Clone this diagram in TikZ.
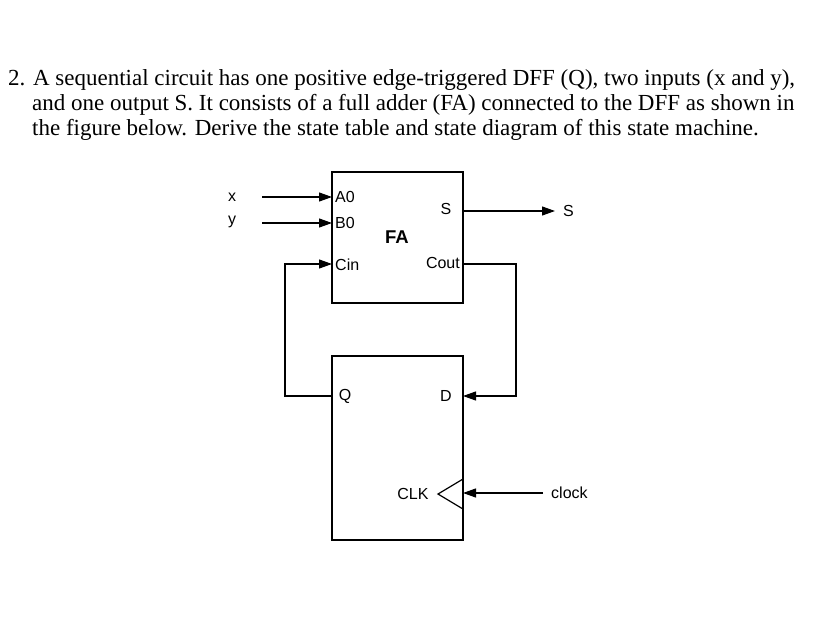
\documentclass[tikz,border=0pt]{standalone}
\usepackage{fontspec}
\setmainfont{Liberation Serif}
\newfontfamily\sansf{Liberation Sans}
\usetikzlibrary{arrows.meta}
\begin{document}
\begin{tikzpicture}[x=1pt,y=-1pt,
  line/.style={line width=1.2pt},
  arr/.style={line width=1.2pt,-{Triangle[length=13pt,width=9pt]}},
  lbl/.style={font=\sansf\fontsize{16}{18}\selectfont,inner sep=1pt},
  txt/.style={anchor=west,inner sep=0pt,font=\fontsize{23}{26}\selectfont}]
\useasboundingbox (0,0) rectangle (828,642);
\node[txt] (t1) at (8,80) {2. A sequential circuit has one positive edge-triggered DFF (Q), two inputs (x and y),};
\node[txt] (t2) at (32,105) {and one output S. It consists of a full adder (FA) connected to the DFF as shown in};
\node[txt] (t3) at (32,130) {the figure below. Derive the state table and state diagram of this state machine.};
% boxes
\draw[line] (332,172) rectangle (463,303);
\draw[line] (332,356) rectangle (463,540);
\node[lbl,anchor=west] (a0) at (334,197) {A0};
\node[lbl,anchor=west] (b0) at (334,223) {B0};
\node[lbl,anchor=west] (cin) at (334,265) {Cin};
\node[lbl,font=\sansf\bfseries\fontsize{18.5}{20}\selectfont] (fa) at (397,237) {FA};
\node[lbl] (s) at (446,209) {S};
\node[lbl,anchor=east] (cout) at (461,263) {Cout};
\node[lbl] (q) at (345,396) {Q};
\node[lbl] (d) at (446,396) {D};
\node[lbl] (clk) at (413,494) {CLK};
\node[lbl] (xl) at (232,197) {x};
\node[lbl] (yl) at (232,222) {y};
\node[lbl,anchor=west] (so) at (562,211) {S};
\node[lbl,anchor=west] (ck) at (550,493) {clock};
\coordinate (xs) at (262,197); \coordinate (xe) at (332,197);
\coordinate (ys) at (262,223); \coordinate (ye) at (332,223);
\coordinate (ci) at (332,264); \coordinate (qo) at (332,396);
\coordinate (co) at (463,264); \coordinate (di) at (463,396);
\coordinate (so1) at (463,211); \coordinate (so2) at (555,211);
\coordinate (cs) at (543,493); \coordinate (ce) at (463,493);
\coordinate (lc) at (285,330); \coordinate (rc) at (516,330);
\draw[arr] (xs) -- (xe);
\draw[arr] (ys) -- (ye);
\draw[arr] (qo) -| (lc) |- (ci);
\draw[arr] (co) -| (rc) |- (di);
\draw[arr] (so1) -- (so2);
\draw[arr] (cs) -- (ce);
\draw[line,line join=miter] (463,479) -- (438,494) -- (463,509);
\end{tikzpicture}
\end{document}
